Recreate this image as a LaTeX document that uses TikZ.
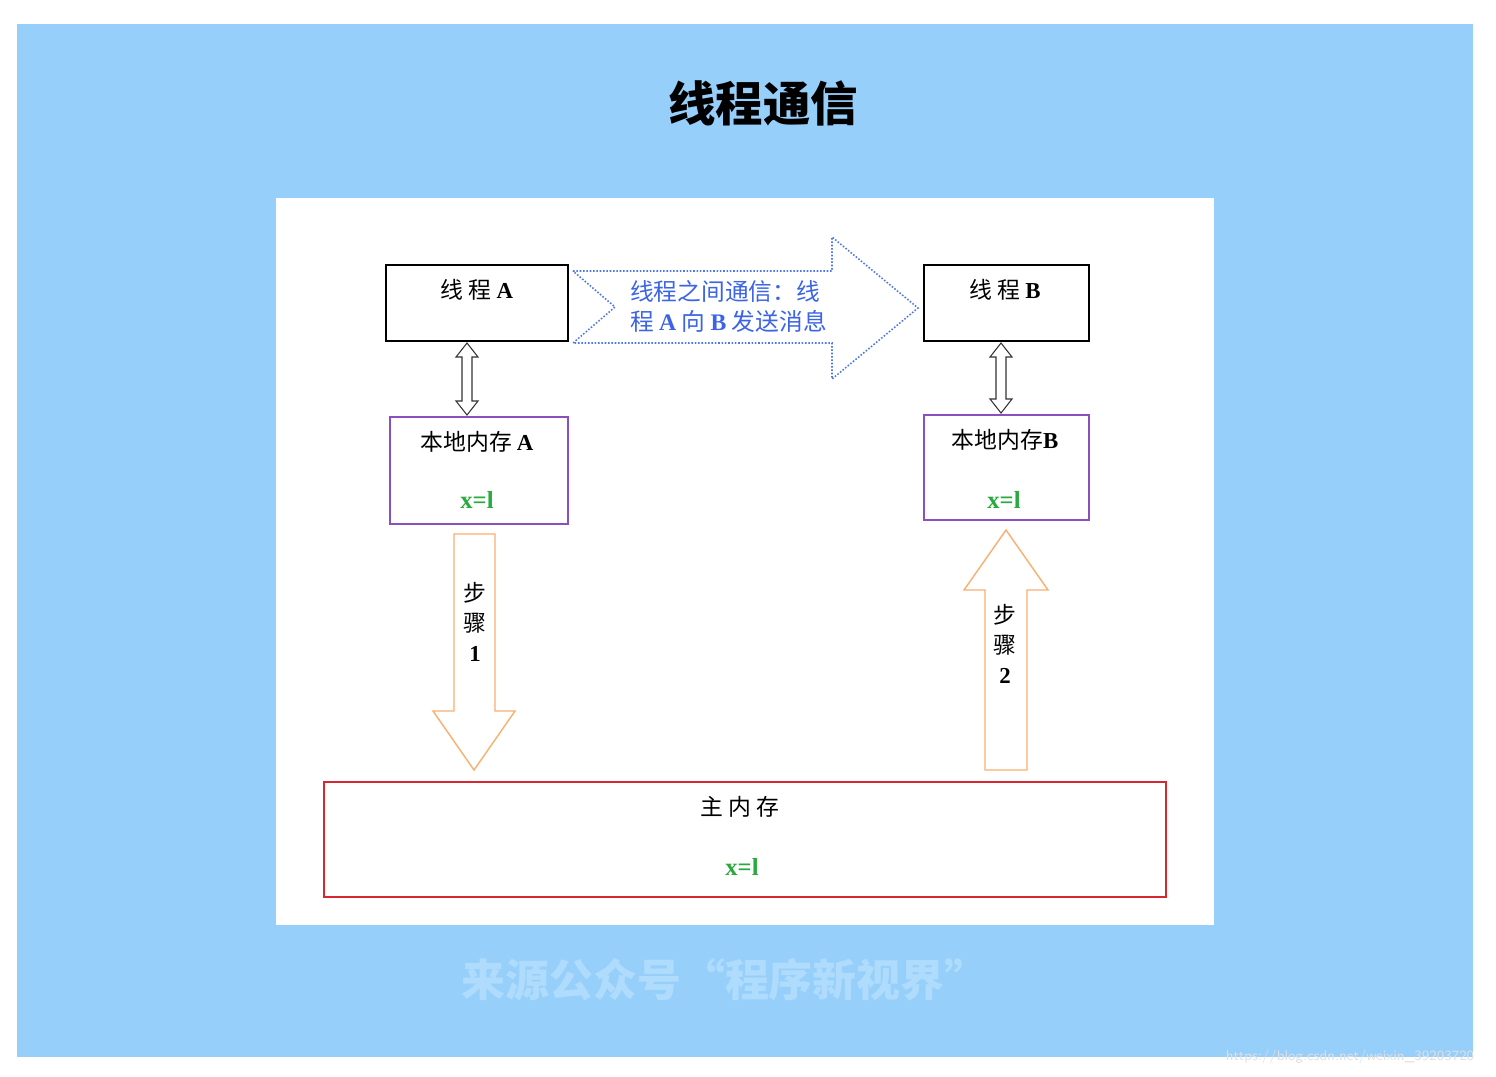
\documentclass[tikz,border=0pt]{standalone}
\usepackage{fontspec}
\setmainfont{Liberation Serif}
\newfontfamily\cjk{Noto Sans CJK SC}
\newcommand{\lt}[1]{{\rmfamily\bfseries #1}}
\begin{document}
\begin{tikzpicture}[x=0.02cm,y=-0.02cm,
  bx/.style={draw=black,line width=0.9pt},
  lbl/.style={font=\cjk\fontsize{13}{15}\selectfont},
  xv/.style={text={rgb,255:red,40;green,170;blue,60},font=\rmfamily\bfseries\fontsize{14}{15}\selectfont},
  orng/.style={draw={rgb,255:red,250;green,175;blue,110},line width=0.8pt,fill=white},
  dbl/.style={draw=black!80,line width=0.6pt,fill=white}]
\useasboundingbox (0,0) rectangle (1496,1076);
\fill[white] (0,0) rectangle (1496,1076);
\fill[fill={rgb,255:red,151;green,207;blue,251}] (17,24) rectangle (1473,1057);
\fill[white] (276,198) rectangle (1214,925);
\node[font=\cjk\bfseries\fontsize{27}{30}\selectfont] (title) at (763,103) {线程通信};
% boxes
\draw[bx] (386,265) rectangle (568,341);
\node[lbl] (ta) at (477,290) {线 程 \lt{A}};
\draw[bx] (924,265) rectangle (1089,341);
\node[lbl] (tb) at (1005,290) {线 程 \lt{B}};
\draw[draw={rgb,255:red,140;green,80;blue,190},line width=0.9pt] (390,417) rectangle (568,524);
\node[lbl] (ma) at (477,442) {本地内存 \lt{A}};
\node[xv] (xa) at (477,500) {x=l};
\draw[draw={rgb,255:red,140;green,80;blue,190},line width=0.9pt] (924,415) rectangle (1089,520);
\node[lbl] (mb) at (1005,440) {本地内存\lt{B}};
\node[xv] (xb) at (1004,500) {x=l};
\draw[draw={rgb,255:red,215;green,40;blue,50},line width=0.9pt] (324,782) rectangle (1166,897);
\node[lbl] (mm) at (740,807) {主 内 存};
\node[xv] (xm) at (742,867) {x=l};
% double arrows
\foreach \cx/\t/\b in {467/343/415,1001/343/413}{
\draw[dbl] (\cx,\t) -- (\cx+11,\t+14) -- (\cx+5,\t+14) -- (\cx+5,\b-14) -- (\cx+11,\b-14) -- (\cx,\b) -- (\cx-11,\b-14) -- (\cx-5,\b-14) -- (\cx-5,\t+14) -- (\cx-11,\t+14) -- cycle;}
% big dashed arrow
\draw[draw={rgb,255:red,80;green,120;blue,230},densely dotted,line width=0.9pt]
 (573,271) -- (832,271) -- (832,237) -- (918,308) -- (832,379) -- (832,343) -- (573,343) -- (615,307) -- cycle;
\node[font=\cjk\fontsize{13.5}{17}\selectfont,text={rgb,255:red,60;green,100;blue,230},align=left,anchor=north west] (msg) at (624,274) {线程之间通信：线\\程 \lt{A} 向 \lt{B} 发送消息};
% orange arrows
\draw[orng] (454,534) -- (495,534) -- (495,711) -- (515,711) -- (474,770) -- (433,711) -- (454,711) -- cycle;
\node[lbl,align=center,font=\cjk\fontsize{13}{17}\selectfont] (s1) at (475,622) {步\\骤\\\lt{1}};
\draw[orng] (985,770) -- (1027,770) -- (1027,590) -- (1048,590) -- (1006,530) -- (964,590) -- (985,590) -- cycle;
\node[lbl,align=center,font=\cjk\fontsize{13}{17}\selectfont] (s2) at (1005,644) {步\\骤\\\lt{2}};
\node[font=\cjk\bfseries\fontsize{25}{28}\selectfont,text={rgb,255:red,175;green,220;blue,252}] (wm) at (725,980) {来源公众号“程序新视界”};
\node[font=\fontsize{8}{9}\selectfont\sffamily,text=black!12] (url) at (1350,1057) {https://blog.csdn.net/weixin\_39203720};
\end{tikzpicture}
\end{document}
